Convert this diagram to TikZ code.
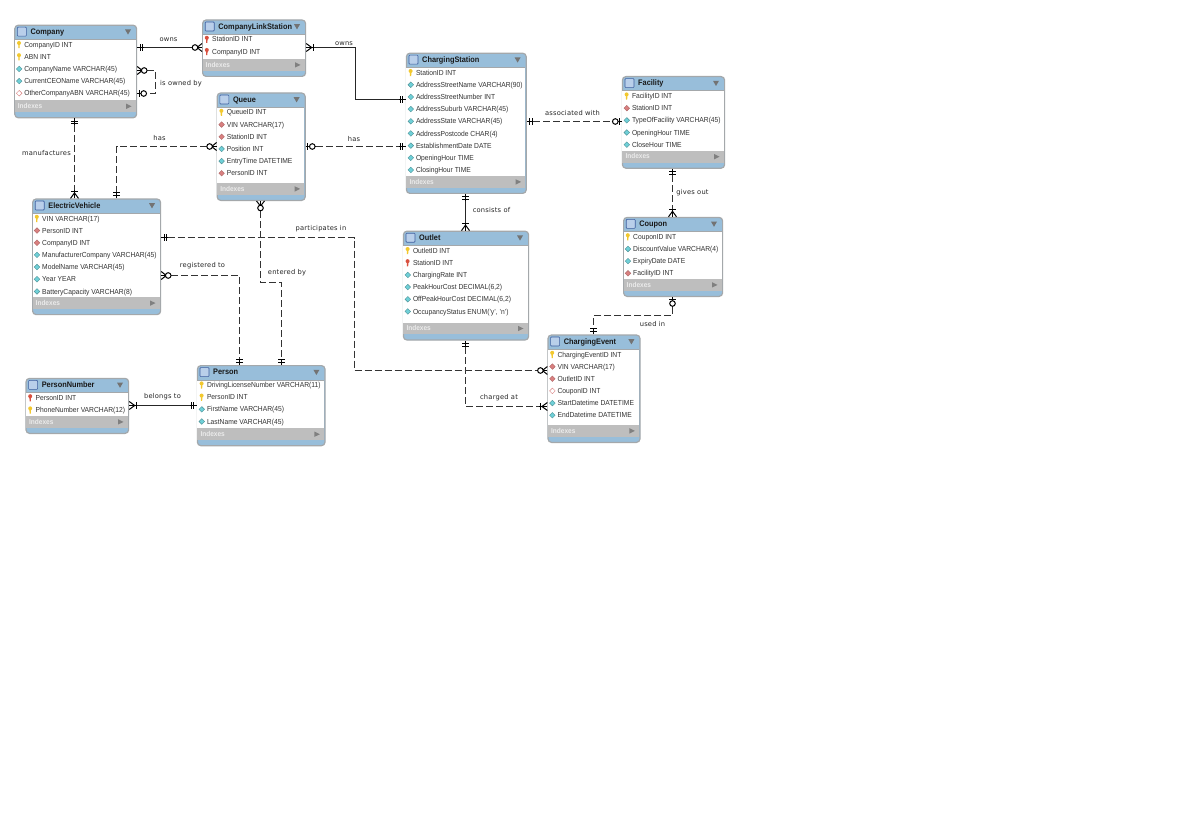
\documentclass[tikz,border=0pt]{standalone}
\usepackage{fontspec}
\setmainfont{Liberation Sans}[FakeStretch=0.92]
\newfontfamily\lblfont{DejaVu Sans}[LetterSpace=3]
\usetikzlibrary{calc,arrows.meta}
\definecolor{hdrblue}{HTML}{98BEDA}
\definecolor{idxgrey}{HTML}{BEBEBE}
\definecolor{edgegrey}{HTML}{A4A8AB}
\definecolor{rowtext}{HTML}{333333}
\definecolor{ktealfill}{HTML}{6FD0D8}
\definecolor{kredfill}{HTML}{D98080}
\definecolor{kyellow}{HTML}{F2C82E}
\definecolor{kred}{HTML}{D9503F}
\definecolor{iconblue}{HTML}{B9CFEA}
\definecolor{iconedge}{HTML}{3F5F9F}

% ---- crow's-foot line ends (tip x=0 sits on the table edge)
\newcommand{\erstem}[1]{\pgfsetdash{}{0pt}\pgfsetlinewidth{1pt}\pgfsetstrokecolor{black}%
  \pgfpathmoveto{\pgfpoint{0pt}{0pt}}\pgfpathlineto{\pgfpoint{-#1pt}{0pt}}\pgfusepathqstroke}
\newcommand{\erbar}[1]{\pgfpathmoveto{\pgfpoint{-#1pt}{3.4pt}}\pgfpathlineto{\pgfpoint{-#1pt}{-3.4pt}}\pgfusepathqstroke}
\newcommand{\ercrow}[1]{\pgfpathmoveto{\pgfpoint{0pt}{4pt}}\pgfpathlineto{\pgfpoint{-#1pt}{0pt}}\pgfpathlineto{\pgfpoint{0pt}{-4pt}}\pgfusepathqstroke}
\newcommand{\ercirc}[1]{\pgfsetfillcolor{white}\pgfpathcircle{\pgfpoint{-#1pt}{0pt}}{2.8pt}\pgfusepathqfillstroke}
\newcommand{\ersetup}[1]{\pgfarrowssettipend{0pt}\pgfarrowssetlineend{-#1pt}\pgfarrowssetvisualbackend{-#1pt}\pgfarrowssetbackend{-#1pt}}
\pgfdeclarearrow{name=erOO,setup code={\ersetup{6.5}},drawing code={\erstem{6.5}\erbar{3}\erbar{5.5}}}
\pgfdeclarearrow{name=erZM,setup code={\ersetup{10}},drawing code={\erstem{10}\ercrow{5}\ercirc{7}}}
\pgfdeclarearrow{name=erOM,setup code={\ersetup{8}},drawing code={\erstem{8}\ercrow{5.5}\erbar{7}}}
\pgfdeclarearrow{name=erZO,setup code={\ersetup{10}},drawing code={\erstem{10}\erbar{2}\ercirc{6.5}}}

\tikzset{
  x=1pt,y=-1pt,
  tablebox/.style={draw=edgegrey,line width=1.2pt,fill=hdrblue,rounded corners=3.5pt,inner sep=0pt,anchor=north west},
  rowlabel/.style={anchor=base west,inner sep=0pt,font=\fontsize{7.3}{9}\selectfont,text=rowtext},
  titlelabel/.style={anchor=base west,inner sep=0pt,font=\fontsize{8}{10}\selectfont\bfseries,text=black!90},
  idxlabel/.style={anchor=base west,inner sep=0pt,font=\fontsize{7.1}{9}\selectfont\bfseries,text=white!92!black},
  conlabel/.style={inner sep=0pt,font=\lblfont\fontsize{6.7}{9}\selectfont,text=black!85},
  solidcon/.style={line width=1.2pt,draw=black!85},
  dashcon/.style={line width=1.2pt,draw=black!80,dash pattern=on 7pt off 3pt},
}

\newcommand{\keyicon}[3]{%
  \fill[#1] ({#2},{#3-1.6}) circle (2);
  \fill[#1] ({#2-0.8},{#3-1}) -- ({#2+0.8},{#3-1}) -- ({#2+0.6},{#3+3.6}) -- ({#2-0.6},{#3+3.6}) -- cycle;
}
\newcommand{\diaicon}[4]{%
  \filldraw[fill=#1,draw=#2,line width=0.4pt] ({#3+5},{#4-2.8}) -- ({#3+7.8},{#4}) -- ({#3+5},{#4+2.8}) -- ({#3+2.2},{#4}) -- cycle;
}
% \rowicon{type}{x}{y}
\newcommand{\rowicon}[3]{%
  \if#1k\keyicon{kyellow}{#2+4.8}{#3}\fi
  \if#1f\keyicon{kred}{#2+4.8}{#3}\fi
  \if#1d\diaicon{ktealfill}{ktealfill!70!black}{#2}{#3}\fi
  \if#1r\diaicon{kredfill}{kredfill!80!black}{#2}{#3}\fi
  \if#1w\diaicon{white}{kredfill}{#2}{#3}\fi
}
% \erdtable{name}{x0}{x1}{ytop}{nrows}{title}{rows}{extra white height}
\newcommand{\erdtable}[8]{%
  \pgfmathsetmacro\tw{#3-#2}%
  \pgfmathsetmacro\wh{12.2*#5+#8}%
  \pgfmathsetmacro\th{14.8+\wh+11.8+5}%
  \pgfmathsetmacro\wt{#4+14.8}%
  \pgfmathsetmacro\wb{\wt+\wh}%
  \pgfmathsetmacro\gb{\wb+11.8}%
  \node[tablebox,minimum width=\tw pt,minimum height=\th pt] (#1) at (#2,#4) {};
  \fill[white] (#2+0.5,\wt) rectangle (#3-0.5,\wb);
  \fill[idxgrey] (#2+0.5,\wb) rectangle (#3-0.5,\gb);
  \draw[edgegrey,line width=0.6pt] (#2+0.5,\wt) -- (#3-0.5,\wt);
  % title bar
  \filldraw[fill=iconblue,draw=iconedge,line width=0.6pt,rounded corners=0.8pt] (#2+3.2,#4+2.6) rectangle (#2+12.2,#4+11.6);
  \node[titlelabel] (#1-title) at (#2+16.2,#4+9.8) {#6};
  \fill[black!55] (#3-11,#4+4.8) -- (#3-5,#4+4.8) -- (#3-8,#4+10) -- cycle;
  % rows
  \foreach \kind/\txt [count=\i] in {#7} {
    \pgfmathsetmacro\ry{\wt+5.2+12.17*(\i-1)}
    \rowicon{\kind}{#2}{\ry}
    \pgfmathsetmacro\rb{\ry+2.6}
    \node[rowlabel] (#1-r\i) at (#2+10,\rb) {\txt};
  }
  % indexes bar
  \node[idxlabel] (#1-idx) at (#2+3.5,\wb+8.2) {Indexes};
  \fill[black!50] (#3-10,\wb+3.2) -- (#3-4.5,\wb+5.9) -- (#3-10,\wb+8.6) -- cycle;
}

\begin{document}
\begin{tikzpicture}
\useasboundingbox (0,0) rectangle (1200,840);
\fill[white] (0,0) rectangle (1200,840);

\erdtable{company}{14.2}{136}{24.6}{5}{Company}{k/CompanyID INT,k/ABN INT,d/CompanyName VARCHAR(45),d/CurrentCEOName VARCHAR(45),w/OtherCompanyABN VARCHAR(45)}{0}
\erdtable{cls}{202}{305}{19.4}{2}{CompanyLinkStation}{f/StationID INT,f/CompanyID INT}{0.4}
\erdtable{queue}{216.6}{304.6}{92.4}{6}{Queue}{k/QueueID INT,r/VIN VARCHAR(17),r/StationID INT,d/Position INT,d/EntryTime DATETIME,r/PersonID INT}{2.6}
\erdtable{station}{405.8}{525.6}{52.6}{9}{ChargingStation}{k/StationID INT,d/AddressStreetName VARCHAR(90),d/AddressStreetNumber INT,d/AddressSuburb VARCHAR(45),d/AddressState VARCHAR(45),d/AddressPostcode CHAR(4),d/EstablishmentDate DATE,d/OpeningHour TIME,d/ClosingHour TIME}{-1.2}
\erdtable{facility}{621.8}{724}{76}{5}{Facility}{k/FacilityID INT,r/StationID INT,d/TypeOfFacility VARCHAR(45),d/OpeningHour TIME,d/CloseHour TIME}{-1}
\erdtable{coupon}{623}{722}{216.8}{4}{Coupon}{k/CouponID INT,d/DiscountValue VARCHAR(4),d/ExpiryDate DATE,r/FacilityID INT}{-1.4}
\erdtable{outlet}{402.8}{528}{230.6}{6}{Outlet}{k/OutletID INT,f/StationID INT,d/ChargingRate INT,d/{PeakHourCost DECIMAL(6,2)},d/{OffPeakHourCost DECIMAL(6,2)},d/{OccupancyStatus ENUM('y', 'n')}}{4}
\erdtable{ev}{32}{160}{198.4}{7}{ElectricVehicle}{k/VIN VARCHAR(17),r/PersonID INT,r/CompanyID INT,d/ManufacturerCompany VARCHAR(45),d/ModelName VARCHAR(45),d/Year YEAR,d/BatteryCapacity VARCHAR(8)}{-1.4}
\erdtable{person}{196.8}{324.4}{365}{4}{Person}{k/DrivingLicenseNumber VARCHAR(11),k/PersonID INT,d/FirstName VARCHAR(45),d/LastName VARCHAR(45)}{-0.3}
\erdtable{pnum}{25.4}{128}{377.8}{2}{PersonNumber}{f/PersonID INT,k/PhoneNumber VARCHAR(12)}{-1}
\erdtable{event}{547.4}{639.4}{334.4}{6}{ChargingEvent}{k/ChargingEventID INT,r/VIN VARCHAR(17),r/OutletID INT,w/CouponID INT,d/StartDatetime DATETIME,d/EndDatetime DATETIME}{2.6}

% connectors
\draw[solidcon,erOO-erZM] (company.east |- 0,47.5) -- (cls.west |- 0,47.5);
\draw[dashcon,erZM-erZO] (company.east |- 0,70.5) -- (155.5,70.5) -- (155.5,93.5) -- (company.east |- 0,93.5);
\draw[dashcon,erOO-erOM] (company.south -| 74.5,0) -- (ev.north -| 74.5,0);
\draw[dashcon,erZM-erOO] (queue.west |- 0,146.5) -- (116.5,146.5) -- (ev.north -| 116.5,0);
\draw[solidcon,erOM-erOO] (cls.east |- 0,47.5) -- (355.5,47.5) -- (355.5,99.5) -- (station.west |- 0,99.5);
\draw[dashcon,erZO-erOO] (queue.east |- 0,146.5) -- (station.west |- 0,146.5);
\draw[dashcon,erOO-erZO] (station.east |- 0,121.5) -- (facility.west |- 0,121.5);
\draw[solidcon,erOO-erOM] (station.south -| 465.5,0) -- (outlet.north -| 465.5,0);
\draw[dashcon,erOO-erOM] (facility.south -| 672.5,0) -- (coupon.north -| 672.5,0);
\draw[dashcon,erZO-erOO] (coupon.south -| 672.5,0) -- (672.5,315.5) -- (593.5,315.5) -- (event.north -| 593.5,0);
\draw[dashcon,erOO-erOM] (outlet.south -| 465.5,0) -- (465.5,406.5) -- (event.west |- 0,406.5);
\draw[dashcon,erOO-erZM] (ev.east |- 0,237.5) -- (354.5,237.5) -- (354.5,370.5) -- (event.west |- 0,370.5);
\draw[dashcon,erZM-erOO] (ev.east |- 0,275.5) -- (239.5,275.5) -- (person.north -| 239.5,0);
\draw[dashcon,erZM-erOO] (queue.south -| 260.5,0) -- (260.5,282.5) -- (281.5,282.5) -- (person.north -| 281.5,0);
\draw[solidcon,erOM-erOO] (pnum.east |- 0,405.5) -- (person.west |- 0,405.5);

% connector labels
\node[conlabel] (l1) at (168.5,39.5) {owns};
\node[conlabel] (l2) at (181,83.5) {is owned by};
\node[conlabel] (l3) at (46.5,153) {manufactures};
\node[conlabel] (l4) at (159.5,138.5) {has};
\node[conlabel] (l5) at (344,44) {owns};
\node[conlabel] (l6) at (354,139) {has};
\node[conlabel] (l7) at (572.5,113.5) {associated with};
\node[conlabel] (l8) at (491.5,210.5) {consists of};
\node[conlabel] (l9) at (692.5,193) {gives out};
\node[conlabel] (l10) at (652.5,324.5) {used in};
\node[conlabel] (l11) at (499,398) {charged at};
\node[conlabel] (l12) at (321,229) {participates in};
\node[conlabel] (l13) at (202.5,265.5) {registered to};
\node[conlabel] (l14) at (287,272.5) {entered by};
\node[conlabel] (l15) at (162.5,397) {belongs to};
\end{tikzpicture}
\end{document}
